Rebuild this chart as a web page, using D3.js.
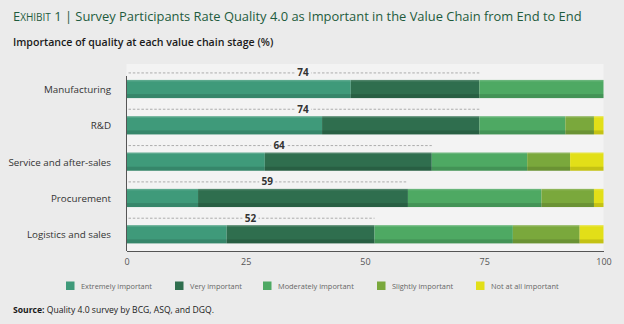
<!DOCTYPE html>
<html>
<head>
<meta charset="utf-8">
<script src="https://cdn.jsdelivr.net/npm/d3@7"></script>
<style>
  html, body { margin: 0; padding: 0; background: #ebebeb; }
  svg { display: block; font-family: "Open Sans", sans-serif; }
</style>
</head>
<body>
<div id="chart"></div>
<script>
const categories = ["Manufacturing", "R&D", "Service and after-sales", "Procurement", "Logistics and sales"];
const levels = ["Extremely important", "Very important", "Moderately important", "Slightly important", "Not at all important"];
const extremely = [47, 41, 29, 15, 21];
const very = [27, 33, 35, 44, 31];
const moderately = [26, 18, 20, 28, 29];
const slightly = [0, 6, 9, 11, 14];
const notAtAll = [0, 2, 7, 2, 5];
const topTwo = [74, 74, 64, 59, 52];
const tickValues = [0, 25, 50, 75, 100];
const colors = ["#3f9a7a", "#2f6e4e", "#4ea963", "#7aa83c", "#e2df18"];

const W = 624, H = 324;
const svg = d3.select("#chart").append("svg").attr("width", W).attr("height", H);

svg.append("rect").attr("width", W).attr("height", H).attr("fill", "#ebebeb");

//////////////////////////// titles ////////////////////////////
const title = svg.append("text").attr("x", 13).attr("y", 21)
  .attr("fill", "#1e5b3d").style("font-size", "12.9px");
title.append("tspan").text("E");
title.append("tspan").style("font-size", "10px").text("XHIBIT");
title.append("tspan").text(" 1 | Survey Participants Rate Quality 4.0 as Important in the Value Chain from End to End");

svg.append("text").attr("x", 13).attr("y", 46)
  .attr("fill", "#1a1a1a").style("font-size", "10.6px").style("font-weight", 600)
  .text("Importance of quality at each value chain stage (%)");

//////////////////////////// scales ////////////////////////////
const x = d3.scaleLinear().domain([0, 100]).range([126.5, 603.5]);
const y = d3.scaleBand().domain(categories).range([72.3, 251]).paddingInner(0.5).paddingOuter(0.21);

const rows = categories.map((c, i) => ({
  category: c,
  [levels[0]]: extremely[i],
  [levels[1]]: very[i],
  [levels[2]]: moderately[i],
  [levels[3]]: slightly[i],
  [levels[4]]: notAtAll[i],
}));
const series = d3.stack().keys(levels)(rows);

// plot panel
svg.append("rect").attr("x", x(0)).attr("y", 64).attr("width", x(100) - x(0)).attr("height", 251 - 64)
  .attr("fill", "#f3f3f3");

//////////////////////////// bars ////////////////////////////
const g = svg.append("g");
series.forEach((s, k) => {
  g.selectAll(null).data(s.filter(d => d[1] > d[0])).enter().append("rect")
    .attr("x", d => x(d[0]))
    .attr("y", d => y(d.data.category))
    .attr("width", d => x(d[1]) - x(d[0]))
    .attr("height", y.bandwidth())
    .attr("fill", colors[k]);
});
// shading along the bar bottoms and a soft top highlight
categories.forEach(c => {
  g.append("rect").attr("x", x(0)).attr("y", y(c) + y.bandwidth() - 4)
    .attr("width", x(100) - x(0)).attr("height", 4).attr("fill", "#000").attr("opacity", 0.13);
  g.append("rect").attr("x", x(0)).attr("y", y(c))
    .attr("width", x(100) - x(0)).attr("height", 1.5).attr("fill", "#fff").attr("opacity", 0.15);
});

//////////////////////////// top-two labels ////////////////////////////
const lab = svg.append("g").selectAll("g").data(categories).enter().append("g");
lab.append("line")
  .attr("x1", x(0) + 2).attr("x2", (d, i) => x(topTwo[i]))
  .attr("y1", d => y(d) - 7).attr("y2", d => y(d) - 7)
  .attr("stroke", "#9a9a9a").attr("stroke-width", 0.8).attr("stroke-dasharray", "2.5,1.8");
lab.append("rect")
  .attr("x", (d, i) => x(topTwo[i] / 2) - 8).attr("y", d => y(d) - 13)
  .attr("width", 16).attr("height", 12).attr("fill", "#f3f3f3");
lab.append("text")
  .attr("x", (d, i) => x(topTwo[i] / 2)).attr("y", d => y(d) - 3.5)
  .attr("text-anchor", "middle").attr("fill", "#333")
  .style("font-size", "10px").style("font-weight", 700)
  .text((d, i) => topTwo[i]);

//////////////////////////// axes ////////////////////////////
svg.append("g").attr("transform", `translate(0,251)`)
  .call(d3.axisBottom(x).tickValues(tickValues).tickSize(0).tickPadding(8))
  .call(a => a.select(".domain").attr("stroke", "#555"))
  .call(a => a.selectAll("text").attr("fill", "#555").style("font-size", "9px").style("font-family", "Open Sans"));

svg.append("line").attr("x1", x(0)).attr("x2", x(0)).attr("y1", 76).attr("y2", 251)
  .attr("stroke", "#555");

svg.append("g").selectAll("text").data(categories).enter().append("text")
  .attr("x", 111).attr("y", d => y(d) + y.bandwidth() / 2 + 4)
  .attr("text-anchor", "end").attr("fill", "#333").style("font-size", "9.8px")
  .text(d => d);

//////////////////////////// legend ////////////////////////////
const legendX = [66, 175, 263, 377, 476];
const leg = svg.append("g").selectAll("g").data(levels).enter().append("g")
  .attr("transform", (d, i) => `translate(${legendX[i]},281.5)`);
leg.append("rect").attr("width", 8.5).attr("height", 8.5).attr("fill", (d, i) => colors[i]);
leg.append("text").attr("x", 15).attr("y", 7.5).attr("fill", "#666").style("font-size", "7.4px").text(d => d);

//////////////////////////// source ////////////////////////////
const src = svg.append("text").attr("x", 13).attr("y", 313).attr("fill", "#1a1a1a").style("font-size", "8.6px");
src.append("tspan").style("font-weight", 700).text("Source:");
src.append("tspan").text(" Quality 4.0 survey by BCG, ASQ, and DGQ.");
</script>
</body>
</html>
